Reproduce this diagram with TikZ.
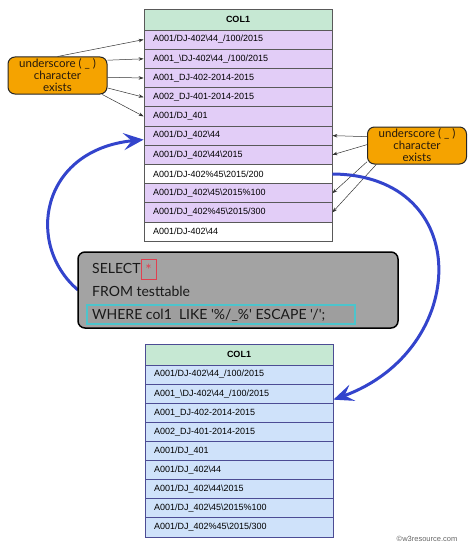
\documentclass[tikz,border=0pt]{standalone}
\usepackage{fontspec}
\setmainfont{Liberation Sans}
\newfontfamily\hfont{Lato}
\usetikzlibrary{arrows.meta,calc}
\definecolor{hdrgreen}{HTML}{C6E8D3}
\definecolor{rowpurple}{HTML}{E2CDF7}
\definecolor{rowblue}{HTML}{CFE2FA}
\definecolor{callorange}{HTML}{F5A300}
\definecolor{sqlgray}{HTML}{A3A3A3}
\definecolor{arrowblue}{HTML}{3344CC}
\definecolor{boxcyan}{HTML}{4CC4CC}
\definecolor{boxred}{HTML}{E04050}
\tikzset{
  cellbase/.style={minimum height=19.2pt, inner ysep=0pt, inner xsep=9pt,
    text width=170pt, align=left, font=\fontsize{9}{10}\selectfont, line width=0.8pt},
  topcell/.style={cellbase, draw=black!65, fill=rowpurple},
  topwhite/.style={cellbase, draw=black!65, fill=white},
  botcell/.style={cellbase, draw=black!60!blue!70, fill=rowblue, minimum height=19.1pt},
  hdrcell/.style={cellbase, align=center, fill=hdrgreen, minimum height=21pt,
    font=\fontsize{9}{10}\selectfont\bfseries},
  callout/.style={draw=black!85, line width=1pt, fill=callorange, rounded corners=7pt,
    minimum width=99pt, minimum height=37pt, align=center, text=black!80!brown,
    font=\hfont\fontsize{11.5}{12}\selectfont, inner sep=0pt},
  pointer/.style={draw=black!80, line width=0.5pt, -{Stealth[length=5pt,width=3.5pt]}},
  bigarrow/.style={draw=arrowblue, line width=3pt, -{Stealth[length=20pt,width=17pt,inset=8pt]}},
  sqltext/.style={font=\hfont\fontsize{14}{14}\selectfont, text=black!90, inner sep=0pt}
}
\begin{document}
\begin{tikzpicture}[x=1pt,y=-1pt]
\useasboundingbox (0,0) rectangle (474,551);

% top table
\node[hdrcell, draw=black!65] (th) at (238,19.5) {COL1};
\node[topcell]  (t1)  at (238,39.6)  {A001/DJ-402\textbackslash 44\_/100/2015};
\node[topcell]  (t2)  at (238,58.8)  {A001\_\textbackslash DJ-402\textbackslash 44\_/100/2015};
\node[topcell]  (t3)  at (238,78.0)  {A001\_DJ-402-2014-2015};
\node[topcell]  (t4)  at (238,97.2)  {A002\_DJ-401-2014-2015};
\node[topcell]  (t5)  at (238,116.4) {A001/DJ\_401};
\node[topcell]  (t6)  at (238,135.6) {A001/DJ\_402\textbackslash 44};
\node[topcell]  (t7)  at (238,154.8) {A001/DJ\_402\textbackslash 44\textbackslash 2015};
\node[topwhite] (t8)  at (238,174.0) {A001/DJ-402\%45\textbackslash 2015/200};
\node[topcell]  (t9)  at (238,193.2) {A001/DJ\_402\textbackslash 45\textbackslash 2015\%100};
\node[topcell]  (t10) at (238,212.4) {A001/DJ\_402\%45\textbackslash 2015/300};
\node[topwhite] (t11) at (238,231.6) {A001/DJ-402\textbackslash 44};

% bottom table
\node[hdrcell, draw=black!60!blue!70] (bh) at (239,354.5) {COL1};
\node[botcell] (b1) at (239,374.55) {A001/DJ-402\textbackslash 44\_/100/2015};
\node[botcell] (b2) at (239,393.65) {A001\_\textbackslash DJ-402\textbackslash 44\_/100/2015};
\node[botcell] (b3) at (239,412.75) {A001\_DJ-402-2014-2015};
\node[botcell] (b4) at (239,431.85) {A002\_DJ-401-2014-2015};
\node[botcell] (b5) at (239,450.95) {A001/DJ\_401};
\node[botcell] (b6) at (239,470.05) {A001/DJ\_402\textbackslash 44};
\node[botcell] (b7) at (239,489.15) {A001/DJ\_402\textbackslash 44\textbackslash 2015};
\node[botcell] (b8) at (239,508.25) {A001/DJ\_402\textbackslash 45\textbackslash 2015\%100};
\node[botcell] (b9) at (239,527.35) {A001/DJ\_402\%45\textbackslash 2015/300};

% callouts
\node[callout] (cl) at (57.5,75.5) {underscore ( \_ )\\character\\exists};
\node[callout] (cr) at (417,145.5) {underscore ( \_ )\\character\\exists};

\draw[pointer] (cl.north) -- (t1.west);
\draw[pointer] (cl.17) -- (t2.west);
\draw[pointer] (cl.-2) -- (t3.west);
\draw[pointer] (cl.-14) -- (t4.west);
\draw[pointer] (cl.-23) -- (t5.west);

\draw[pointer] (cr.170) -- (t6.east);
\draw[pointer] (cr.179) -- (t7.east);
\draw[pointer] (cr.198) -- (t9.east);
\draw[pointer] (cr.205) -- (t10.east);

% big blue arrows
\coordinate (lstart) at (78,290);
\draw[bigarrow] (lstart) .. controls (25,245) and (40,150) .. ([yshift=-4pt]t6.west);
\draw[bigarrow] (t8.east) .. controls (475,175) and (470,350) .. ([yshift=-6pt]b2.east);

% SQL box
\node[draw=black, line width=1.5pt, fill=sqlgray, rounded corners=7pt,
      minimum width=320pt, minimum height=76pt] (sql) at (238,290) {};
\node[sqltext, anchor=base west] (sel) at (92,273) {SELECT};
\node[draw=boxred, line width=1pt, minimum width=15pt, minimum height=20pt, inner sep=0pt] (star) at (148.5,269) {};
\node[font=\hfont\fontsize{15}{15}\selectfont, text=boxred, inner sep=0pt] (startxt) at (148.5,270) {\raisebox{-0.25em}{*}};
\node[sqltext, anchor=base west] (from) at (92,296) {FROM testtable};
\node[draw=boxcyan, line width=1.5pt, fill=black!38, minimum width=268pt, minimum height=19pt,
      inner sep=0pt] (wbox) at (221,314.5) {};
\node[sqltext, anchor=base west] (where) at (92,319) {WHERE col1\ \ LIKE '\%/\_\%' ESCAPE '/';};

% watermark
\node[font=\fontsize{7.5}{8}\selectfont, text=black!60] (wm) at (427,539) {\char"00A9 w3resource.com};
\end{tikzpicture}
\end{document}
